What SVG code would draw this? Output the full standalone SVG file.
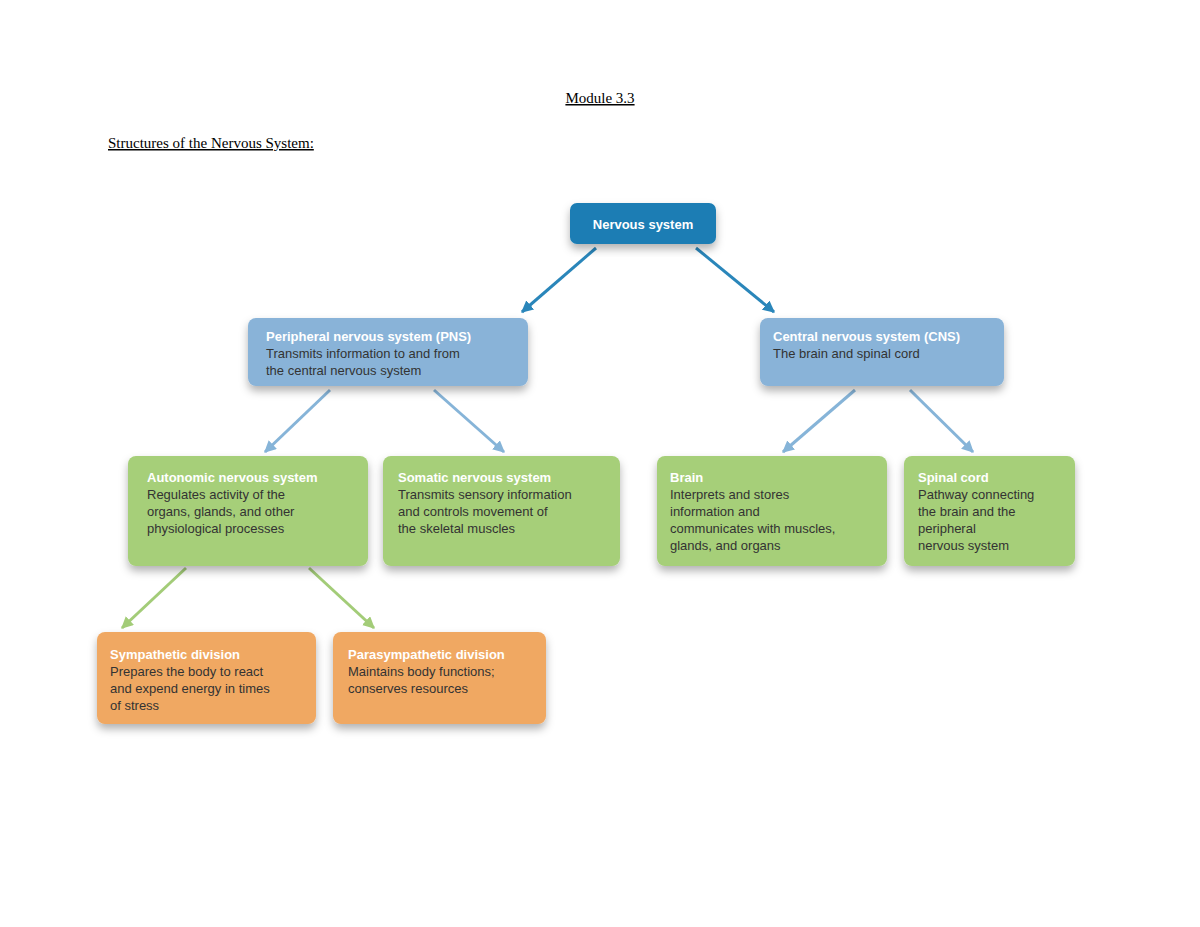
<svg xmlns="http://www.w3.org/2000/svg" width="1200" height="927" viewBox="0 0 1200 927">
<style>
.t{font-family:"Liberation Sans",Arial,sans-serif;font-size:13px}
.h{font-weight:bold;fill:#fff}
.b{fill:#333}
.doc{font-family:"Liberation Serif","Times New Roman",serif;font-size:15px;fill:#000}
</style>
<defs>
<filter id="sh" x="-10%" y="-10%" width="120%" height="140%"><feDropShadow dx="0" dy="5" stdDeviation="4" flood-color="#000" flood-opacity="0.3"/></filter>
<marker id="ad" viewBox="0 0 10 10" refX="9" refY="5" markerWidth="4" markerHeight="4" orient="auto"><path d="M0,0L10,5L0,10z" fill="#2a86ba"/></marker>
<marker id="al" viewBox="0 0 10 10" refX="9" refY="5" markerWidth="4" markerHeight="4" orient="auto"><path d="M0,0L10,5L0,10z" fill="#86b4d8"/></marker>
<marker id="ag" viewBox="0 0 10 10" refX="9" refY="5" markerWidth="4" markerHeight="4" orient="auto"><path d="M0,0L10,5L0,10z" fill="#a3cc78"/></marker>
</defs>
<rect width="1200" height="927" fill="#fff"/>
<text class="doc" x="600" y="103" text-anchor="middle" text-decoration="underline">Module 3.3</text>
<text class="doc" x="108" y="148" text-decoration="underline">Structures of the Nervous System:</text>
<g id="connectors" stroke-width="3" fill="none">
<line x1="596" y1="248" x2="522" y2="312" stroke="#2a86ba" marker-end="url(#ad)"/>
<line x1="696" y1="248" x2="774" y2="312" stroke="#2a86ba" marker-end="url(#ad)"/>
<line x1="330" y1="390" x2="265" y2="452" stroke="#86b4d8" marker-end="url(#al)"/>
<line x1="434" y1="390" x2="504" y2="452" stroke="#86b4d8" marker-end="url(#al)"/>
<line x1="855" y1="390" x2="783" y2="452" stroke="#86b4d8" marker-end="url(#al)"/>
<line x1="910" y1="390" x2="973" y2="452" stroke="#86b4d8" marker-end="url(#al)"/>
<line x1="186" y1="568" x2="122" y2="628" stroke="#a3cc78" marker-end="url(#ag)"/>
<line x1="309" y1="568" x2="374" y2="628" stroke="#a3cc78" marker-end="url(#ag)"/>
</g>
<g id="nervous"><rect x="570" y="203" width="146" height="41" rx="7" fill="#1a7db4" filter="url(#sh)"/><text class="t h" x="643" y="229" text-anchor="middle">Nervous system</text></g>
<g id="pns"><rect x="248" y="318" width="280" height="68" rx="8" fill="#89b3d8" filter="url(#sh)"/><text class="t" x="266" y="341"><tspan class="h">Peripheral nervous system (PNS)</tspan><tspan class="b" x="266" dy="17">Transmits information to and from</tspan><tspan class="b" x="266" dy="17">the central nervous system</tspan></text></g>
<g id="cns"><rect x="760" y="318" width="244" height="68" rx="8" fill="#89b3d8" filter="url(#sh)"/><text class="t" x="773" y="341"><tspan class="h">Central nervous system (CNS)</tspan><tspan class="b" x="773" dy="17">The brain and spinal cord</tspan></text></g>
<g id="autonomic"><rect x="128" y="456" width="240" height="110" rx="8" fill="#a6cf79" filter="url(#sh)"/><text class="t" x="147" y="482"><tspan class="h">Autonomic nervous system</tspan><tspan class="b" x="147" dy="17">Regulates activity of the</tspan><tspan class="b" x="147" dy="17">organs, glands, and other</tspan><tspan class="b" x="147" dy="17">physiological processes</tspan></text></g>
<g id="somatic"><rect x="383" y="456" width="237" height="110" rx="8" fill="#a6cf79" filter="url(#sh)"/><text class="t" x="398" y="482"><tspan class="h">Somatic nervous system</tspan><tspan class="b" x="398" dy="17">Transmits sensory information</tspan><tspan class="b" x="398" dy="17">and controls movement of</tspan><tspan class="b" x="398" dy="17">the skeletal muscles</tspan></text></g>
<g id="brain"><rect x="657" y="456" width="230" height="110" rx="8" fill="#a6cf79" filter="url(#sh)"/><text class="t" x="670" y="482"><tspan class="h">Brain</tspan><tspan class="b" x="670" dy="17">Interprets and stores</tspan><tspan class="b" x="670" dy="17">information and</tspan><tspan class="b" x="670" dy="17">communicates with muscles,</tspan><tspan class="b" x="670" dy="17">glands, and organs</tspan></text></g>
<g id="spinal"><rect x="904" y="456" width="171" height="110" rx="8" fill="#a6cf79" filter="url(#sh)"/><text class="t" x="918" y="482"><tspan class="h">Spinal cord</tspan><tspan class="b" x="918" dy="17">Pathway connecting</tspan><tspan class="b" x="918" dy="17">the brain and the</tspan><tspan class="b" x="918" dy="17">peripheral</tspan><tspan class="b" x="918" dy="17">nervous system</tspan></text></g>
<g id="sympathetic"><rect x="97" y="632" width="219" height="92" rx="8" fill="#f0a862" filter="url(#sh)"/><text class="t" x="110" y="659"><tspan class="h">Sympathetic division</tspan><tspan class="b" x="110" dy="17">Prepares the body to react</tspan><tspan class="b" x="110" dy="17">and expend energy in times</tspan><tspan class="b" x="110" dy="17">of stress</tspan></text></g>
<g id="parasympathetic"><rect x="333" y="632" width="213" height="92" rx="8" fill="#f0a862" filter="url(#sh)"/><text class="t" x="348" y="659"><tspan class="h">Parasympathetic division</tspan><tspan class="b" x="348" dy="17">Maintains body functions;</tspan><tspan class="b" x="348" dy="17">conserves resources</tspan></text></g>
</svg>
